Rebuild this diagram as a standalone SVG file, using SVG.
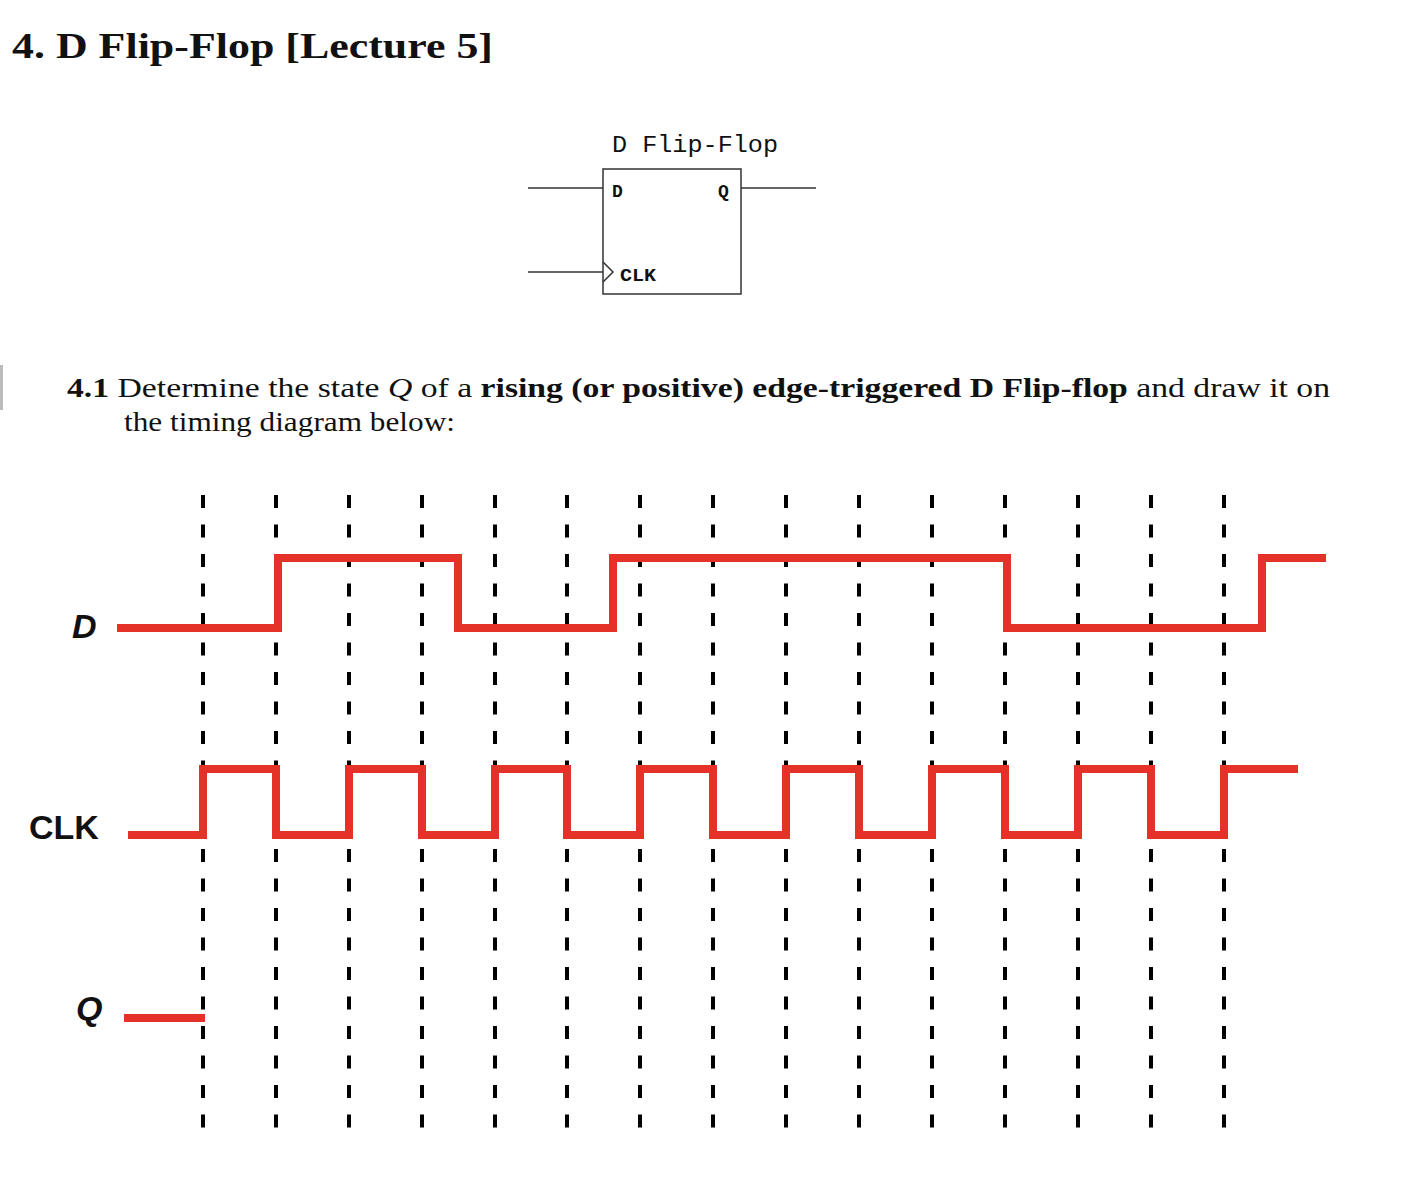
<svg xmlns="http://www.w3.org/2000/svg" width="1414" height="1184" viewBox="0 0 1414 1184">
<style>
.serif{font-family:"Liberation Serif","DejaVu Serif",serif;fill:#111}
.mono{font-family:"Liberation Mono","DejaVu Sans Mono",monospace;fill:#111}
.lbl{font-family:"Liberation Sans",Arial,sans-serif;font-weight:bold;font-size:34px;fill:#111}
.grid line{stroke:#000;stroke-width:4;stroke-dasharray:13 16.5}
.sig{fill:none;stroke:#e53228;stroke-width:8;stroke-linejoin:miter}
.thin{stroke:#333;stroke-width:1.5;fill:none}
</style>
<rect width="1414" height="1184" fill="#fff"/>
<text class="serif" x="12" y="58" font-size="36" font-weight="bold" textLength="481" lengthAdjust="spacingAndGlyphs">4. D Flip-Flop [Lecture 5]</text>
<g id="flipflop">
<text class="mono" x="612" y="152" font-size="24" textLength="166" lengthAdjust="spacingAndGlyphs">D Flip-Flop</text>
<rect class="thin" x="603" y="169" width="138" height="125"/>
<line class="thin" x1="528" y1="188" x2="603" y2="188"/>
<line class="thin" x1="741" y1="188" x2="816" y2="188"/>
<line class="thin" x1="528" y1="272" x2="603" y2="272"/>
<polyline class="thin" points="603,262 613,272 603,282"/>
<text class="mono" x="612" y="197" font-size="18" font-weight="bold">D</text>
<text class="mono" x="718" y="197" font-size="18" font-weight="bold">Q</text>
<text class="mono" x="620" y="281" font-size="18" font-weight="bold" textLength="36" lengthAdjust="spacingAndGlyphs">CLK</text>
</g>
<line x1="1.5" y1="365" x2="1.5" y2="410" stroke="#bbb" stroke-width="3"/>
<text class="serif" x="67" y="397" font-size="27" textLength="1263" lengthAdjust="spacingAndGlyphs"><tspan font-weight="bold">4.1</tspan> Determine the state <tspan font-style="italic">Q</tspan> of a <tspan font-weight="bold">rising (or positive) edge-triggered D Flip-flop</tspan> and draw it on</text>
<text class="serif" x="124" y="431" font-size="27" textLength="331" lengthAdjust="spacingAndGlyphs">the timing diagram below:</text>
<g class="grid" id="grid">
<line x1="203" y1="495" x2="203" y2="1128"/>
<line x1="276" y1="495" x2="276" y2="1128"/>
<line x1="349" y1="495" x2="349" y2="1128"/>
<line x1="422" y1="495" x2="422" y2="1128"/>
<line x1="495" y1="495" x2="495" y2="1128"/>
<line x1="567" y1="495" x2="567" y2="1128"/>
<line x1="640" y1="495" x2="640" y2="1128"/>
<line x1="713" y1="495" x2="713" y2="1128"/>
<line x1="786" y1="495" x2="786" y2="1128"/>
<line x1="859" y1="495" x2="859" y2="1128"/>
<line x1="932" y1="495" x2="932" y2="1128"/>
<line x1="1005" y1="495" x2="1005" y2="1128"/>
<line x1="1078" y1="495" x2="1078" y2="1128"/>
<line x1="1151" y1="495" x2="1151" y2="1128"/>
<line x1="1224" y1="495" x2="1224" y2="1128"/>
</g>
<g id="signals">
<polyline class="sig" points="117,628 278,628 278,558 458,558 458,628 613,628 613,558 1007,558 1007,628 1262,628 1262,558 1326,558"/>
<polyline class="sig" points="128,835 203,835 203,769 276,769 276,835 349,835 349,769 422,769 422,835 495,835 495,769 567,769 567,835 640,835 640,769 713,769 713,835 786,835 786,769 859,769 859,835 932,835 932,769 1005,769 1005,835 1078,835 1078,769 1151,769 1151,835 1224,835 1224,769 1298,769"/>
<line class="sig" x1="124" y1="1018" x2="205" y2="1018"/>
</g>
<text class="lbl" x="72" y="638" font-style="italic">D</text>
<text class="lbl" x="29" y="839">CLK</text>
<text class="lbl" x="76" y="1020" font-style="italic">Q</text>
</svg>
